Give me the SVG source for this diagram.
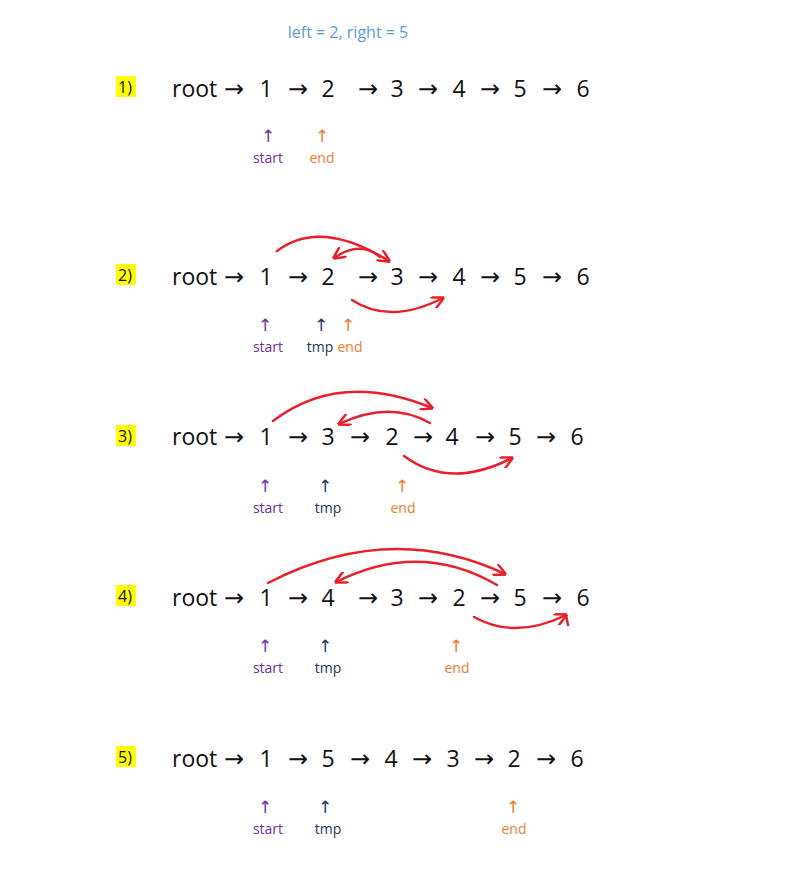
<svg xmlns="http://www.w3.org/2000/svg" width="786" height="877" viewBox="0 0 786 877">
<style>
.t{font-family:"Open Sans","Liberation Sans",sans-serif;font-size:23px;fill:#111}
.n{font-family:"Open Sans","Liberation Sans",sans-serif;font-size:23px;fill:#111;text-anchor:middle}
.r{font-family:"DejaVu Sans",sans-serif;font-size:24px;fill:#111;text-anchor:middle}
.h{font-family:"Open Sans","Liberation Sans",sans-serif;font-size:16px;fill:#111}
.l{font-family:"Open Sans","Liberation Sans",sans-serif;font-size:14px;text-anchor:middle}
.u{font-family:"DejaVu Sans",sans-serif;font-size:17px;text-anchor:middle}
.s{fill:#7030a0}.m{fill:#1f3864}.e{fill:#ed7d31}
.c{fill:none;stroke:#e8202a;stroke-width:2.5;stroke-linecap:round;marker-end:url(#a)}
</style>
<defs><marker id="a" viewBox="0 0 10 10" refX="9" refY="5" markerWidth="5" markerHeight="5" orient="auto" markerUnits="strokeWidth"><path d="M0,0 L10,5 L0,10" fill="none" stroke="#e8202a" stroke-width="2"/></marker>
<rect id="y" width="20" height="21" fill="#ffff00"/></defs>
<rect width="786" height="877" fill="#fff"/>
<text x="348" y="38" font-family="Open Sans,Liberation Sans,sans-serif" font-size="16" fill="#5b9bd5" text-anchor="middle">left = 2, right = 5</text>
<g id="row1">
<use href="#y" x="116" y="76"/><text class="h" x="118" y="93">1)</text>
<text class="t" x="172" y="97">root</text>
<text class="n" x="266 328 397 459 520 583" y="97">123456</text>
<text class="r" x="234 298 368 428 490 552" y="97">→→→→→→</text>
<text class="u s" x="268" y="142">↑</text><text class="l s" x="268" y="163">start</text>
<text class="u e" x="322" y="142">↑</text><text class="l e" x="322" y="163">end</text>
</g>
<g id="row2">
<use href="#y" x="116" y="264"/><text class="h" x="118" y="281">2)</text>
<text class="t" x="172" y="285">root</text>
<text class="n" x="266 328 397 459 520 583" y="285">123456</text>
<text class="r" x="234 298 368 428 490 552" y="285">→→→→→→</text>
<text class="u s" x="265" y="331">↑</text><text class="l s" x="268" y="352">start</text>
<text class="u m" x="321" y="331">↑</text><text class="l m" x="320" y="352">tmp</text>
<text class="u e" x="348" y="331">↑</text><text class="l e" x="350" y="352">end</text>
</g>
<g id="row3">
<use href="#y" x="116" y="425"/><text class="h" x="118" y="442">3)</text>
<text class="t" x="172" y="445">root</text>
<text class="n" x="266 328 392 452 515 577" y="445">132456</text>
<text class="r" x="234 298 360 423 485 546" y="445">→→→→→→</text>
<text class="u s" x="265" y="492">↑</text><text class="l s" x="268" y="513">start</text>
<text class="u m" x="325" y="492">↑</text><text class="l m" x="328" y="513">tmp</text>
<text class="u e" x="402" y="492">↑</text><text class="l e" x="403" y="513">end</text>
</g>
<g id="row4">
<use href="#y" x="116" y="585"/><text class="h" x="118" y="602">4)</text>
<text class="t" x="172" y="606">root</text>
<text class="n" x="266 328 397 459 520 583" y="606">143256</text>
<text class="r" x="234 298 368 428 490 552" y="606">→→→→→→</text>
<text class="u s" x="265" y="652">↑</text><text class="l s" x="268" y="673">start</text>
<text class="u m" x="325" y="652">↑</text><text class="l m" x="328" y="673">tmp</text>
<text class="u e" x="456" y="652">↑</text><text class="l e" x="457" y="673">end</text>
</g>
<g id="row5">
<use href="#y" x="116" y="746"/><text class="h" x="118" y="763">5)</text>
<text class="t" x="172" y="767">root</text>
<text class="n" x="266 328 391 453 514 577" y="767">154326</text>
<text class="r" x="234 298 360 422 484 546" y="767">→→→→→→</text>
<text class="u s" x="265" y="813">↑</text><text class="l s" x="268" y="834">start</text>
<text class="u m" x="325" y="813">↑</text><text class="l m" x="328" y="834">tmp</text>
<text class="u e" x="513" y="813">↑</text><text class="l e" x="514" y="834">end</text>
</g>
<g id="connectors">
<path class="c" d="M277,251 Q320,218 389,261"/>
<path class="c" d="M380,257 Q360,240 334,258"/>
<path class="c" d="M352,300 Q390,325 443,298"/>
<path class="c" d="M273,421 Q340,370 432,408"/>
<path class="c" d="M430,423 Q390,400 339,424"/>
<path class="c" d="M404,456 Q450,490 512,458"/>
<path class="c" d="M268,583 Q390,520 505,574"/>
<path class="c" d="M497,585 Q420,540 336,582"/>
<path class="c" d="M474,617 Q515,640 566,615"/>
<path d="M566,615 L568,625" fill="none" stroke="#e8202a" stroke-width="2.5" stroke-linecap="round"/>
</g>
</svg>
